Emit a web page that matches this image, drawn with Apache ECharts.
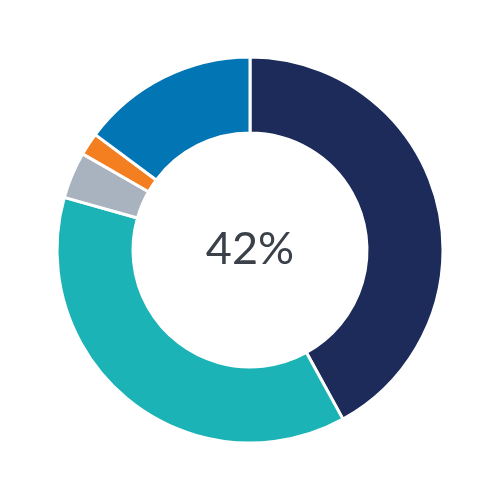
<!DOCTYPE html>
<html>
<head>
<meta charset="utf-8">
<script src="https://cdn.jsdelivr.net/npm/echarts@6/dist/echarts.min.js"></script>
<style>
  html, body { margin: 0; padding: 0; background: #fff; }
  #main { width: 500px; height: 500px; }
</style>
</head>
<body>
<div id="main"></div>
<script>
  // slices, clockwise from 12 o'clock
  var names = ['A', 'B', 'C', 'D', 'E'];
  var values = [42, 37.4, 3.9, 1.9, 14.8];
  var colors = ['#1c2b5a', '#1bb3b5', '#a9b2bf', '#f47f20', '#0275b4'];
  var centerLabel = '42%';

  var chart = echarts.init(document.getElementById('main'));
  var data = [];
  for (var i = 0; i < values.length; i++) {
    data.push({ name: names[i], value: values[i], itemStyle: { color: colors[i] } });
  }
  chart.setOption({
    animation: false,
    title: {
      text: centerLabel,
      left: 'center',
      top: 222,
      textStyle: { fontFamily: 'Lato', fontWeight: 'normal', fontSize: 45, color: '#3a4149' }
    },
    series: [{
      type: 'pie',
      center: ['50%', '50%'],
      radius: [117, 193],
      startAngle: 90,
      clockwise: true,
      label: { show: false },
      labelLine: { show: false },
      itemStyle: { borderColor: '#fff', borderWidth: 3 },
      emphasis: { disabled: true },
      data: data
    }]
  });
</script>
</body>
</html>
